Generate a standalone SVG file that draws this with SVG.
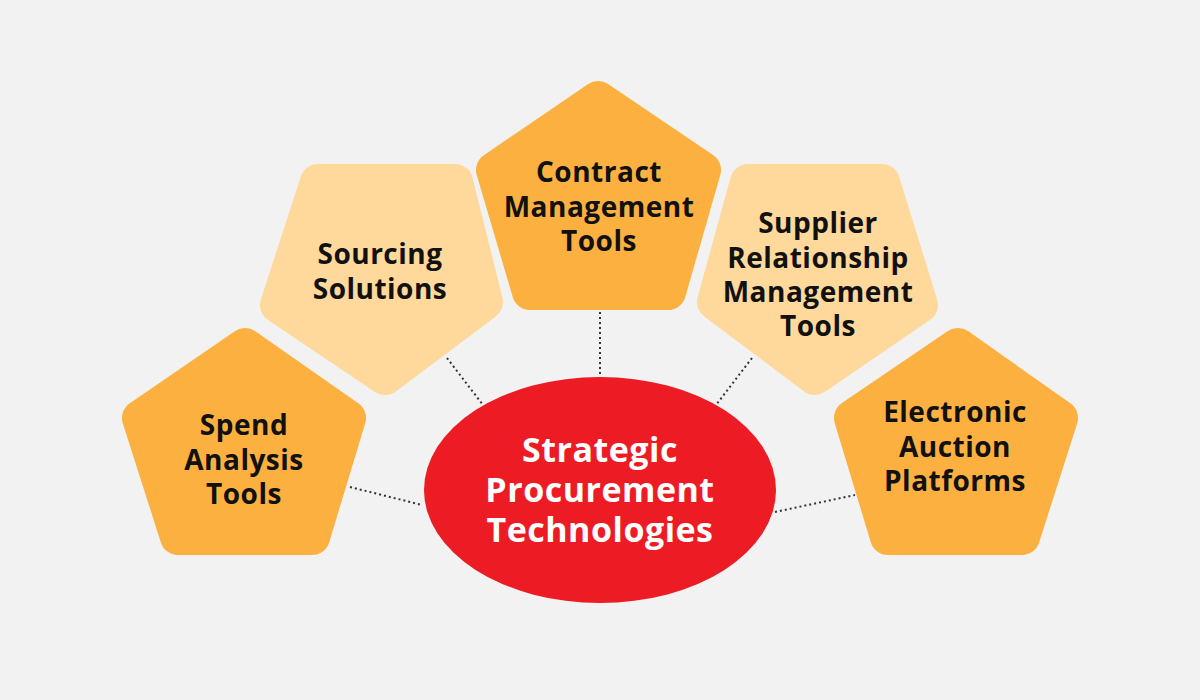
<svg xmlns="http://www.w3.org/2000/svg" width="1200" height="700" viewBox="0 0 1200 700">
<style>
.o{fill:#FBB040;stroke:#FBB040;stroke-width:36;stroke-linejoin:round}
.l{fill:#FFD89B;stroke:#FFD89B;stroke-width:36;stroke-linejoin:round}
.t{font-family:"Open Sans","Liberation Sans",sans-serif;font-weight:bold;font-size:28px;fill:#111;text-anchor:middle;letter-spacing:0.5px}
.w{fill:#fff;font-size:34px}
.c{stroke:#333;stroke-width:2;stroke-dasharray:2 3;fill:none}
</style>
<rect width="1200" height="700" fill="#F2F2F2"/>
<g id="connectors">
<line class="c" x1="350" y1="487" x2="422" y2="505"/>
<line class="c" x1="447" y1="358" x2="483" y2="405"/>
<line class="c" x1="600" y1="312" x2="600" y2="375"/>
<line class="c" x1="752" y1="358" x2="716" y2="405"/>
<line class="c" x1="775" y1="512" x2="855" y2="495"/>
</g>
<g id="spend"><polygon class="o" points="245,346 348,418 312,537 178,537 140,418"/>
<text class="t" x="244" y="435">Spend</text><text class="t" x="244" y="470">Analysis</text><text class="t" x="244" y="504">Tools</text></g>
<g id="sourcing"><polygon class="l" points="318,182 455,182 485,302 385,377 278,305"/>
<text class="t" x="380" y="264">Sourcing</text><text class="t" x="380" y="299">Solutions</text></g>
<g id="contract"><polygon class="o" points="598,99 703,170 668,292 530,292 494,170"/>
<text class="t" x="599" y="182">Contract</text><text class="t" x="599" y="217">Management</text><text class="t" x="599" y="251">Tools</text></g>
<g id="supplier"><polygon class="l" points="748,182 882,182 920,305 815,377 715,302"/>
<text class="t" x="818" y="233">Supplier</text><text class="t" x="818" y="268">Relationship</text><text class="t" x="818" y="302">Management</text><text class="t" x="818" y="336">Tools</text></g>
<g id="auction"><polygon class="o" points="958,346 1060,418 1022,537 888,537 852,418"/>
<text class="t" x="955" y="422">Electronic</text><text class="t" x="955" y="457">Auction</text><text class="t" x="955" y="491">Platforms</text></g>
<g id="center"><ellipse cx="600" cy="490" rx="176" ry="113" fill="#ED1C24"/>
<text class="t w" x="600" y="462">Strategic</text><text class="t w" x="600" y="502">Procurement</text><text class="t w" x="600" y="542">Technologies</text></g>
</svg>
